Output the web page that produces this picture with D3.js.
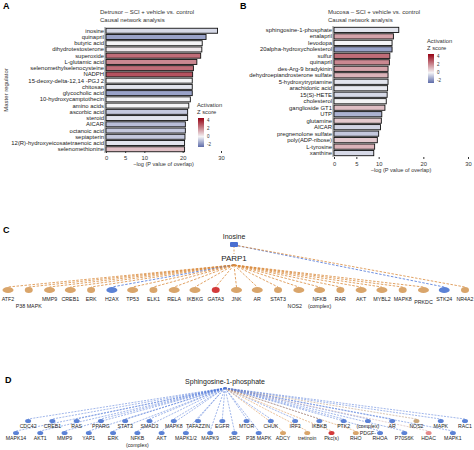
<!DOCTYPE html>
<html><head><meta charset="utf-8">
<script src="https://cdn.jsdelivr.net/npm/d3@7"></script>
<style>body{margin:0;background:#fff}svg{font-family:Arial,"Liberation Sans",sans-serif}</style>
</head><body><svg id="c" width="474" height="450"></svg>
<script>
const aNames=["inosine","quinapril","butyric acid","dihydrotestosterone","superoxide","L-glutamic acid","selenomethylselenocysteine","NADPH","15-deoxy-delta-12,14 -PGJ 2","chitosan","glycocholic acid","10-hydroxycamptothecin","amino acids","ascorbic acid","steroid","AICAR","octanoic acid","sepiapterin","12(R)-hydroxyeicosatetraenoic acid","selenomethionine"];
const aVals=[29.1,26.1,25.1,25,24.7,23.7,22.8,22.6,22.5,22.5,22.5,22,21.6,21.3,21.3,20.7,20.7,20.6,20.5,20.5];
const aZ=[-0.5,-1.5,0,0.2,2.5,2,2.5,3,0,-0.3,-1.5,0,0,-0.8,-0.3,-1,-0.8,-0.8,-0.3,1];
const bNames=["sphingosine-1-phosphate","enalapril","levodopa","20alpha-hydroxycholesterol","sulfur","quinapril","des-Arg-9 bradykinin","dehydroepiandrosterone sulfate","5-hydroxytryptamine","arachidonic acid","15(S)-HETE","cholesterol","ganglioside GT1","UTP","glutamine","AICAR","pregnenolone sulfate","poly(ADP-ribose)","L-tyrosine","xanthine"];
const bVals=[14.5,13.3,13,13,12.5,12.4,12.1,12.1,12.1,12,11.9,11.7,11.4,10.7,10.6,10.4,10,9.7,9.1,8.9];
const bZ=[-0.3,1.5,0,-1.5,2.5,2,1.5,1.2,-0.3,-0.2,-0.5,0,1,-1.2,0.8,-0.6,-0.8,0.8,1.2,-0.5];
const xTicks=[0,5,10,20,30];
const legendTicks=[4,2,0,-2];
const cNodes=["ATF2","P38 MAPK","MMP9","CREB1","ERK","H2AX","TP53","ELK1","RELA","IKBKG","GATA3","JNK","AR","STAT3","NOS2","NFKB|(complex)","RAR","AKT","MYBL2","MAPK8","PRKDC","STK24","NR4A2"];
const cLow=[0,1,0,0,0,0,0,0,0,0,0,0,0,0,1,0,0,0,0,0,0.4,0,0];
const cKind=["o","o","o","o","o","b","o","o","o","o","r","o","o","o","o","o","o","o","o","o","o","b","o"];
const dNodes=["MAPK14","CDC42","AKT1","CREB1","MMP9","RAS","YAP1","PPARG","ERK","STAT3","NFKB|(complex)","SMAD3","AKT","MAPK8","MAPK1/2","TAFAZZIN","MAPK9","EGFR","SRC","MTOR","P38 MAPK","CHUK","ADCY","IRF3","tretinoin","IKBKB","Pkc(s)","PTK2","RHO","(complex)|PDGF-","RHOA","AR","P70S6K","NOS2","HDAC","MAPK","MAPK1","RAC1"];
const dKind=["b","b","b","b","b","b","b","b","b","b","b","b","b","b","b","b","b","b","b","b","b","b","o","b","o","b","r","b","o","b","b","b","b","t","p","b","b","b"];

const svg=d3.select("#c");
const col=d3.scaleLinear().domain([-2,0,4]).range(["#7b86b8","#f4f4f6","#a01c2c"]);
function panel(x0,x1,yTop,yBot,names,vals,zs,title,letter,lx,ly,axisY,dom){
  const x=d3.scaleLinear().domain(dom).range([x0,x1]);
  const y=d3.scaleBand().domain(names).range([yTop,yBot]).padding(0.2);
  const g=svg.append("g");
  g.selectAll("rect").data(names).join("rect").attr("x",x(0)).attr("y",d=>y(d)).attr("width",(d,i)=>x(vals[i])-x(0)).attr("height",y.bandwidth()).attr("fill",(d,i)=>col(zs[i])).attr("stroke","#111").attr("stroke-width",0.9);
  g.selectAll("text.n").data(names).join("text").attr("x",x(0)-2).attr("y",d=>y(d)+y.bandwidth()/2+2).attr("text-anchor","end").attr("font-size",5.9).attr("fill","#222").text(d=>d);
  g.append("line").attr("x1",x(0)-1).attr("x2",x(0)-1).attr("y1",yTop).attr("y2",yBot).attr("stroke","#333").attr("stroke-width",0.6);
  const ax=g.append("g").attr("transform",`translate(0,${axisY})`).call(d3.axisBottom(x).tickValues(xTicks).tickSize(2));
  ax.select(".domain").remove();ax.selectAll("text").attr("font-size",5.8).attr("fill","#333");ax.selectAll("line").attr("stroke","#333");
  g.append("text").attr("x",(x(0)+x(30))/2).attr("y",axisY+15).attr("text-anchor","middle").attr("font-size",5.6).attr("fill","#333").text("−log (P value of overlap)");
  g.append("text").attr("x",x0-6).attr("y",14).attr("font-size",6).attr("fill","#333").text(title);
  g.append("text").attr("x",x0-6).attr("y",22).attr("font-size",6).attr("fill","#333").text("Causal network analysis");
  g.append("text").attr("x",letter[1]).attr("y",9).attr("font-size",9).attr("font-weight","bold").text(letter[0]);
  const lg=g.append("g");
  lg.append("text").attr("x",lx).attr("y",ly).attr("font-size",5.8).attr("fill","#333").text("Activation");
  lg.append("text").attr("x",lx).attr("y",ly+7).attr("font-size",5.8).attr("fill","#333").text("Z score");
  const ly2=d3.scaleLinear().domain([4.5,-2.5]).range([ly+11,ly+40]);
  const id="grad"+letter[0];
  const gr=svg.append("defs").append("linearGradient").attr("id",id).attr("x1",0).attr("x2",0).attr("y1",0).attr("y2",1);
  [4.5,0,-2.5].forEach((v,i)=>gr.append("stop").attr("offset",[0,0.643,1][i]).attr("stop-color",col(v)));
  lg.append("rect").attr("x",lx+1).attr("y",ly+11).attr("width",6).attr("height",29).attr("fill",`url(#${id})`);
  legendTicks.forEach(t=>lg.append("text").attr("x",lx+10).attr("y",ly2(t)+1.5).attr("font-size",4.5).attr("fill","#333").text(t));
}
panel(106,221,27,153,aNames,aVals,aZ,"Detrusor – SCI + vehicle vs. control",["A",3],197,107,151,[0,30]);
panel(334,468,26,157,bNames,bVals,bZ,"Mucosa – SCI + vehicle vs. control",["B",240],427,43,157,[0,30]);
svg.append("text").attr("transform","translate(8,90) rotate(-90)").attr("text-anchor","middle").attr("font-size",6).attr("fill","#333").text("Master regulator");

const kc={o:"#d9a56b",b:"#5b82d6",r:"#d33a3a",t:"#c9a57a",p:"#e58a8a"};
const ec={o:"#d98a3c",b:"#4a74d8",r:"#d98a3c",t:"#b08d6d",p:"#c9a2a2"};
function labels(g,x,y,name,fs){const p=name.split("|");p.forEach((s,i)=>g.append("text").attr("x",x).attr("y",y+i*7).attr("text-anchor","middle").attr("font-size",fs).attr("fill","#222").text(s));}
const gc=svg.append("g");
gc.append("text").attr("x",3).attr("y",233).attr("font-size",9).attr("font-weight","bold").text("C");
const xc=d3.scalePoint().domain(cNodes).range([8,465]);
const src={x:234,y:265};
cNodes.forEach((n,i)=>{
  const nx=xc(n),ny=290;
  let sx=src.x,sy=src.y,k=cKind[i];
  if(n==="STK24"||n==="NR4A2"){sx=234;sy=245;}
  gc.append("line").attr("x1",sx).attr("y1",sy).attr("x2",nx).attr("y2",ny-3).attr("stroke",ec[k]).attr("stroke-width",0.8).attr("stroke-dasharray","2.5,1.5");
});
gc.append("line").attr("x1",234).attr("y1",246).attr("x2",234).attr("y2",254).attr("stroke",ec.o).attr("stroke-width",0.8).attr("stroke-dasharray","2,1.5");
cNodes.forEach((n,i)=>{
  const nx=xc(n),ny=290,k=cKind[i];
  gc.append("ellipse").attr("cx",nx).attr("cy",ny).attr("rx",i%3===1?4:5.5).attr("ry",3).attr("fill",kc[k]);
  labels(gc,nx-(n==="NOS2"?4:0),301+cLow[i]*7,n,5.3);
});
gc.append("rect").attr("x",230).attr("y",242).attr("width",8).attr("height",5).attr("rx",1).attr("fill","#4a6fd1");
gc.append("text").attr("x",234).attr("y",239).attr("text-anchor","middle").attr("font-size",7).attr("fill","#222").text("Inosine");
gc.append("text").attr("x",234).attr("y",261).attr("text-anchor","middle").attr("font-size",8).attr("fill","#222").text("PARP1");
const gd=svg.append("g");
gd.append("text").attr("x",5).attr("y",383).attr("font-size",9).attr("font-weight","bold").text("D");
const xd=d3.scalePoint().domain(dNodes).range([16,465]);
const s2={x:225,y:388};
dNodes.forEach((n,i)=>{
  const up=i%2===1, nx=xd(n), ny=up?421:433, k=dKind[i];
  gd.append("line").attr("x1",s2.x).attr("y1",s2.y).attr("x2",nx).attr("y2",ny-2).attr("stroke",ec[k]).attr("stroke-width",0.6).attr("stroke-dasharray","2,1.2").attr("opacity",0.85);
});
dNodes.forEach((n,i)=>{
  const up=i%2===1, nx=xd(n), ny=up?421:433, k=dKind[i];
  gd.append("ellipse").attr("cx",nx).attr("cy",ny).attr("rx",3).attr("ry",2).attr("fill",kc[k]);
  labels(gd,nx,up?428:440,n,5.2);
});
gd.append("text").attr("x",225).attr("y",384).attr("text-anchor","middle").attr("font-size",7).attr("fill","#222").text("Sphingosine-1-phosphate");
</script></body></html>
